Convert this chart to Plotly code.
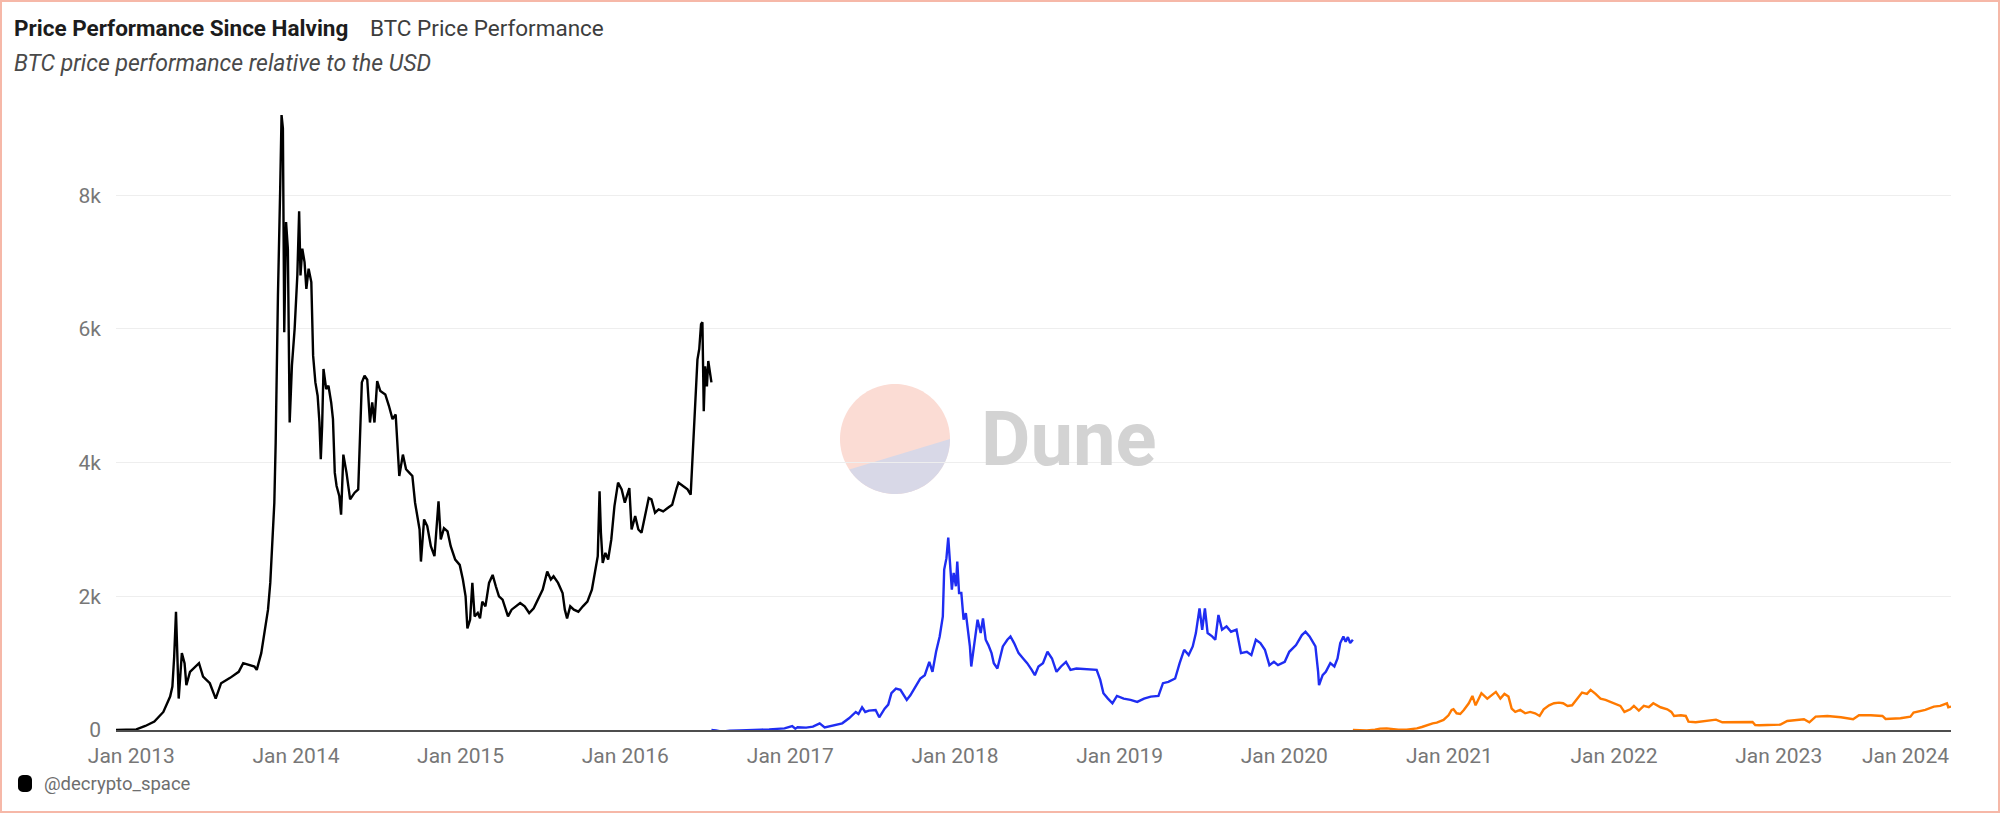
import math
import plotly.graph_objects as go

# ---------------- data (percent change since each halving) ----------------
cycle1_dates = ["2012-11-28","2012-12-20","2013-01-12","2013-02-01","2013-02-21","2013-03-13","2013-03-28","2013-04-02","2013-04-06","2013-04-10","2013-04-16","2013-04-23","2013-04-29","2013-05-03","2013-05-11","2013-05-31","2013-06-09","2013-06-24","2013-07-07","2013-07-19","2013-08-08","2013-08-27","2013-09-06","2013-10-01","2013-10-06","2013-10-16","2013-10-24","2013-10-31","2013-11-05","2013-11-10","2013-11-14","2013-11-17","2013-11-19","2013-11-22","2013-11-27","2013-11-30","2013-12-03","2013-12-06","2013-12-10","2013-12-14","2013-12-18","2013-12-23","2013-12-29","2014-01-04","2014-01-08","2014-01-11","2014-01-15","2014-01-20","2014-01-24","2014-01-29","2014-02-04","2014-02-08","2014-02-13","2014-02-18","2014-02-22","2014-02-25","2014-02-28","2014-03-03","2014-03-09","2014-03-14","2014-03-20","2014-03-24","2014-03-28","2014-04-01","2014-04-07","2014-04-11","2014-04-16","2014-04-23","2014-05-01","2014-05-11","2014-05-19","2014-05-23","2014-05-27","2014-06-02","2014-06-08","2014-06-14","2014-06-19","2014-06-24","2014-06-30","2014-07-07","2014-07-18","2014-07-26","2014-08-03","2014-08-10","2014-08-14","2014-08-18","2014-08-26","2014-09-02","2014-09-09","2014-09-16","2014-09-22","2014-09-27","2014-10-02","2014-10-05","2014-10-12","2014-10-19","2014-10-27","2014-11-04","2014-11-07","2014-11-13","2014-11-18","2014-11-25","2014-12-03","2014-12-10","2014-12-20","2014-12-30","2015-01-06","2015-01-12","2015-01-16","2015-01-22","2015-01-27","2015-02-01","2015-02-08","2015-02-13","2015-02-18","2015-02-25","2015-03-05","2015-03-13","2015-03-20","2015-03-27","2015-04-04","2015-04-09","2015-04-16","2015-04-24","2015-05-04","2015-05-13","2015-05-23","2015-06-02","2015-06-12","2015-06-22","2015-07-02","2015-07-12","2015-07-20","2015-07-26","2015-08-05","2015-08-15","2015-08-20","2015-08-25","2015-09-01","2015-09-09","2015-09-19","2015-09-29","2015-10-09","2015-10-19","2015-10-27","2015-11-01","2015-11-05","2015-11-08","2015-11-12","2015-11-18","2015-11-24","2015-12-01","2015-12-08","2015-12-16","2015-12-24","2015-12-31","2016-01-10","2016-01-15","2016-01-23","2016-01-30","2016-02-06","2016-02-14","2016-02-22","2016-02-28","2016-03-07","2016-03-15","2016-03-25","2016-04-04","2016-04-14","2016-04-24","2016-04-28","2016-05-08","2016-05-18","2016-05-25","2016-05-28","2016-05-30","2016-06-03","2016-06-09","2016-06-13","2016-06-17","2016-06-20","2016-06-23","2016-06-26","2016-06-30","2016-07-03","2016-07-06","2016-07-10"]
cycle1_values = [0,5,10,60,125,270,500,650,1100,1770,470,1150,1000,670,870,1000,800,700,470,700,780,870,1000,950,900,1150,1500,1800,2200,2900,3400,4300,5240,6500,8100,9200,9000,5950,7600,7200,4600,5450,6000,6800,7760,6800,7200,7000,6600,6900,6700,5600,5200,5000,4600,4050,4550,5400,5100,5150,4900,4650,3850,3650,3500,3220,4120,3850,3450,3550,3600,4600,5200,5300,5240,4600,4900,4600,5220,5070,5020,4850,4650,4720,4300,3800,4120,3900,3850,3800,3400,3200,3000,2520,3150,3050,2750,2600,2850,3420,2850,3020,2970,2750,2550,2470,2250,2000,1520,1650,2200,1700,1750,1670,1920,1850,2200,2320,2150,2000,1950,1850,1700,1800,1850,1900,1850,1750,1820,1970,2100,2370,2250,2300,2200,2050,1800,1670,1850,1800,1770,1850,1920,2100,2400,2600,3570,2950,2500,2650,2550,2850,3350,3700,3600,3400,3620,3000,3200,3000,2950,3200,3470,3450,3250,3300,3270,3320,3370,3620,3700,3650,3600,3520,3900,4300,4600,5540,5700,6070,6100,4770,5440,5140,5520,5400,5200]

cycle2_dates = ["2016-07-10","2016-07-20","2016-08-02","2016-08-20","2016-09-10","2016-10-10","2016-10-28","2016-11-15","2016-12-05","2016-12-19","2017-01-05","2017-01-12","2017-01-17","2017-02-05","2017-02-20","2017-03-07","2017-03-18","2017-03-27","2017-04-10","2017-04-26","2017-05-11","2017-05-26","2017-06-01","2017-06-09","2017-06-16","2017-06-24","2017-07-09","2017-07-17","2017-07-29","2017-08-06","2017-08-13","2017-08-23","2017-09-02","2017-09-16","2017-09-24","2017-10-01","2017-10-16","2017-10-26","2017-11-05","2017-11-12","2017-11-20","2017-11-28","2017-12-05","2017-12-08","2017-12-13","2017-12-17","2017-12-22","2017-12-25","2017-12-29","2018-01-03","2018-01-06","2018-01-10","2018-01-15","2018-01-20","2018-01-25","2018-01-30","2018-02-03","2018-02-06","2018-02-13","2018-02-20","2018-02-27","2018-03-04","2018-03-10","2018-03-16","2018-03-23","2018-03-28","2018-04-05","2018-04-10","2018-04-17","2018-04-27","2018-05-04","2018-05-12","2018-05-22","2018-06-01","2018-06-10","2018-06-20","2018-06-27","2018-07-05","2018-07-15","2018-07-25","2018-08-04","2018-08-14","2018-08-24","2018-09-04","2018-09-14","2018-09-27","2018-10-12","2018-10-27","2018-11-11","2018-11-19","2018-11-26","2018-12-06","2018-12-16","2018-12-26","2019-01-10","2019-01-25","2019-02-09","2019-02-24","2019-03-11","2019-03-28","2019-04-07","2019-04-19","2019-05-04","2019-05-14","2019-05-24","2019-06-03","2019-06-12","2019-06-19","2019-06-27","2019-07-03","2019-07-09","2019-07-15","2019-07-25","2019-08-01","2019-08-08","2019-08-16","2019-08-26","2019-09-05","2019-09-17","2019-09-27","2019-10-10","2019-10-20","2019-10-30","2019-11-09","2019-11-19","2019-11-29","2019-12-09","2019-12-18","2020-01-02","2020-01-12","2020-01-27","2020-02-09","2020-02-17","2020-02-26","2020-03-07","2020-03-10","2020-03-16","2020-03-18","2020-03-26","2020-04-02","2020-04-12","2020-04-21","2020-04-28","2020-05-04","2020-05-11","2020-05-16","2020-05-21","2020-05-26","2020-06-01"]
cycle2_values = [0,-5,-25,-10,-5,-5,5,10,15,25,60,20,40,35,50,100,40,55,70,100,175,270,240,340,270,290,300,190,320,380,550,620,600,450,520,600,770,820,1020,870,1170,1400,1700,2400,2570,2880,2300,2100,2350,2150,2520,2050,2050,1650,1750,1500,1250,950,1300,1650,1450,1670,1350,1270,1150,1000,920,1050,1250,1350,1400,1300,1150,1070,1000,900,820,950,1000,1170,1070,870,950,1020,900,920,910,910,900,750,550,470,400,510,470,450,420,470,500,510,700,720,770,1000,1200,1120,1250,1450,1820,1500,1820,1450,1400,1350,1720,1500,1550,1470,1500,1150,1170,1120,1350,1300,1200,970,1020,970,1020,1170,1270,1420,1470,1400,1300,1250,870,670,820,870,1000,950,1070,1300,1400,1320,1390,1300,1350]

cycle3_dates = ["2020-06-01","2020-06-20","2020-07-02","2020-07-20","2020-07-31","2020-08-15","2020-08-30","2020-09-10","2020-09-28","2020-10-10","2020-10-21","2020-11-01","2020-11-12","2020-11-25","2020-12-04","2020-12-19","2020-12-30","2021-01-06","2021-01-10","2021-01-17","2021-01-25","2021-02-02","2021-02-13","2021-02-21","2021-02-28","2021-03-07","2021-03-13","2021-03-26","2021-04-04","2021-04-14","2021-04-24","2021-05-03","2021-05-12","2021-05-19","2021-05-27","2021-06-07","2021-06-18","2021-06-29","2021-07-10","2021-07-20","2021-07-29","2021-08-10","2021-08-21","2021-09-01","2021-09-10","2021-09-20","2021-09-30","2021-10-11","2021-10-22","2021-11-02","2021-11-10","2021-11-21","2021-12-02","2021-12-13","2021-12-24","2022-01-04","2022-01-15","2022-01-24","2022-02-06","2022-02-14","2022-02-25","2022-03-08","2022-03-19","2022-03-29","2022-04-14","2022-04-29","2022-05-08","2022-05-14","2022-05-29","2022-06-09","2022-06-15","2022-07-01","2022-07-16","2022-07-31","2022-08-15","2022-08-29","2022-09-17","2022-10-09","2022-11-04","2022-11-10","2022-11-19","2022-12-07","2023-01-05","2023-01-20","2023-02-12","2023-02-26","2023-03-10","2023-03-24","2023-04-19","2023-05-19","2023-06-15","2023-06-28","2023-07-24","2023-08-19","2023-08-26","2023-09-28","2023-10-20","2023-10-27","2023-11-22","2023-12-11","2023-12-25","2024-01-09","2024-01-12","2024-01-18"]
cycle3_values = [0,-5,-5,5,20,25,15,5,5,10,25,45,75,100,110,150,220,300,310,250,240,300,400,510,370,470,550,470,520,570,470,540,500,320,270,300,250,270,250,210,310,370,400,410,400,360,370,470,560,540,600,540,470,450,420,400,360,270,310,360,290,360,340,400,340,310,270,210,220,210,125,115,125,140,155,115,115,110,120,75,70,75,80,135,150,160,115,200,210,190,160,220,220,210,165,175,200,260,300,350,360,400,340,350]

y_ticks = [0, 2000, 4000, 6000, 8000]
x_tick_years = list(range(2013, 2024))       # labelled on the axis
x_last_tick_label = "Jan 2024"                # clamped inside the plot edge

# ---------------- layout geometry (pixels) ----------------
W, H = 2000, 813
PL, PR, PT, PB = 116, 1951, 115, 730

def px(x):
    return (x - PL) / (PR - PL)

def py(y):
    return (PB - y) / (PB - PT)

FONT = "Roboto, 'Noto Sans', sans-serif"
TICK_FONT = dict(family=FONT, size=21, color="#777777")

fig = go.Figure()
for d, v, c in [(cycle1_dates, cycle1_values, "#000000"),
                (cycle2_dates, cycle2_values, "#1f2df2"),
                (cycle3_dates, cycle3_values, "#ff7a00")]:
    fig.add_trace(go.Scatter(x=d, y=v, mode="lines",
                             line=dict(color=c, width=2.4),
                             hoverinfo="x+y"))

ymax = max(cycle1_values + cycle2_values + cycle3_values)

# Dune watermark shapes
cx0, cy0, r = 895, 439, 55
def circ_pts(a0, a1, n=80):
    pts = []
    for i in range(n + 1):
        a = math.radians(a0 + (a1 - a0) * i / n)
        pts.append((cx0 + r * math.cos(a), cy0 - r * math.sin(a)))
    return pts

def path_from(pts):
    return "M " + " L ".join(f"{px(x):.5f},{py(y):.5f}" for x, y in pts) + " Z"

shapes = [
    dict(type="path", xref="paper", yref="paper", path=path_from(circ_pts(0, 360, 120)),
         fillcolor="#fbdcd4", line=dict(width=0), layer="below"),
    dict(type="path", xref="paper", yref="paper", path=path_from(circ_pts(213.8, 360, 80)),
         fillcolor="#d8d8e7", line=dict(width=0), layer="below"),
    dict(type="rect", xref="paper", yref="paper", x0=px(1), x1=px(W - 1), y0=py(H - 1), y1=py(1),
         line=dict(color="#f6b8a8", width=2), fillcolor="rgba(0,0,0,0)", layer="above"),
]
# footer icon (rounded rectangle)
ix0, ix1, iy0, iy1, rr = 18, 32, 775, 792, 5
icon_pts = []
for (ccx, ccy, a0) in [(ix1 - rr, iy0 + rr, 0), (ix0 + rr, iy0 + rr, 90), (ix0 + rr, iy1 - rr, 180), (ix1 - rr, iy1 - rr, 270)]:
    for i in range(7):
        a = math.radians(a0 + 90 * i / 6)
        icon_pts.append((ccx + rr * math.cos(a), ccy - rr * math.sin(a)))
shapes.append(dict(type="path", xref="paper", yref="paper", path=path_from(icon_pts),
                   fillcolor="#000000", line=dict(width=0), layer="above"))

annotations = [
    dict(text="<b>Price Performance Since Halving</b>", x=px(12), y=py(28), xref="paper", yref="paper",
         xanchor="left", yanchor="middle", showarrow=False, font=dict(family=FONT, size=22.5, color="#1c1c1c")),
    dict(text="BTC Price Performance", x=px(368), y=py(28), xref="paper", yref="paper",
         xanchor="left", yanchor="middle", showarrow=False, font=dict(family=FONT, size=22.5, color="#3d3d3d")),
    dict(text="<i>BTC price performance relative to the USD</i>", x=px(12), y=py(64), xref="paper", yref="paper",
         xanchor="left", yanchor="middle", showarrow=False, font=dict(family=FONT, size=23, color="#4a4a4a")),
    dict(text="@decrypto_space", x=px(42), y=py(784), xref="paper", yref="paper",
         xanchor="left", yanchor="middle", showarrow=False, font=dict(family=FONT, size=18.5, color="#6e6e6e")),
    dict(text="<b>Dune</b>", x=px(1069), y=py(439), xref="paper", yref="paper",
         xanchor="center", yanchor="middle", showarrow=False, font=dict(family=FONT, size=76, color="#d3d3d3")),
    # last x tick label, kept inside the right edge of the plot
    dict(text=x_last_tick_label, x=1, y=py(755.5), xref="paper", yref="paper",
         xanchor="right", yanchor="middle", showarrow=False, font=TICK_FONT),
]

fig.update_layout(
    width=W, height=H,
    margin=dict(l=PL, r=W - PR, t=PT, b=H - PB, pad=0),
    paper_bgcolor="white", plot_bgcolor="white",
    showlegend=False,
    shapes=shapes,
    annotations=annotations,
    font=dict(family=FONT),
)
fig.update_xaxes(
    type="date",
    range=[cycle1_dates[0], cycle3_dates[-1]],
    tickvals=[f"{yr}-01-01" for yr in x_tick_years], tickformat="%b %Y",
    showgrid=False, zeroline=False,
    showline=True, linecolor="#4d4d4d", linewidth=2,
    ticks="", ticklabelstandoff=6,
    tickfont=TICK_FONT,
    layer="below traces",
)
fig.update_yaxes(
    range=[0, ymax], tickvals=y_ticks, tickformat="~s",
    showgrid=True, gridcolor="#eeeeee", gridwidth=1,
    zeroline=False, showline=False, ticks="", ticklabelstandoff=14,
    tickfont=TICK_FONT,
    layer="below traces",
)

fig.write_html("out.html", config={"displayModeBar": False},
               post_script="document.body.style.margin='0';document.body.style.overflow='hidden';")
